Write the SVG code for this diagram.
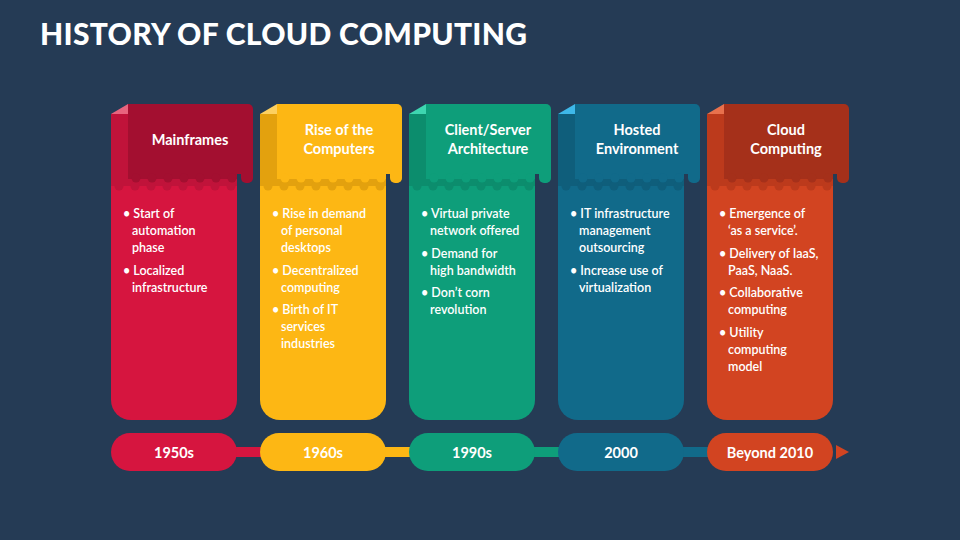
<svg xmlns="http://www.w3.org/2000/svg" width="960" height="540" viewBox="0 0 960 540">
<defs>
<style>
.t{font-family:Lato,"Open Sans","Liberation Sans",sans-serif;fill:#fff}
.h{font-size:14.5px;font-weight:700;text-anchor:middle}
.b{font-size:12.5px;font-weight:600}
.y{font-size:14.5px;font-weight:700;text-anchor:middle}
</style>
<g id="wave">
<circle cx="0" cy="0" r="4.5"/><circle cx="16" cy="0" r="4.5"/><circle cx="32" cy="0" r="4.5"/><circle cx="48" cy="0" r="4.5"/><circle cx="64" cy="0" r="4.5"/><circle cx="80" cy="0" r="4.5"/><circle cx="96" cy="0" r="4.5"/><circle cx="112" cy="0" r="4.5"/>
</g>
</defs>
<rect width="960" height="540" fill="#253B55"/>
<text x="40" y="45" font-family="Lato,'Open Sans','Liberation Sans',sans-serif" font-size="30" font-weight="900" fill="#fff" textLength="487">HISTORY OF CLOUD COMPUTING</text>

<g id="connectors">
<rect x="230" y="447" width="40" height="10" fill="#D6153F"/>
<rect x="380" y="447" width="40" height="10" fill="#FDB714"/>
<rect x="529" y="447" width="40" height="10" fill="#0E9E7A"/>
<rect x="678" y="447" width="40" height="10" fill="#116A8A"/>
<polygon points="836,445 849,452 836,459" fill="#D24421"/>
</g>

<g id="col1">
<path d="M111 176 H237 V400 a20 20 0 0 1 -20 20 H131 a20 20 0 0 1 -20 -20 Z" fill="#D6153F"/>
<rect x="111" y="174" width="126" height="12" fill="#C0133A"/>
<use href="#wave" x="119" y="186" fill="#C0133A"/>
<rect x="111" y="114" width="17" height="72" fill="#C0133A"/>
<polygon points="111,114 128,104 128,114" fill="#E8647E"/>
<rect x="128" y="104" width="109" height="75" fill="#A30F30"/>
<use href="#wave" x="136" y="178" fill="#A30F30"/>
<rect x="241" y="104" width="12" height="79" rx="5" fill="#A30F30"/>
<rect x="237" y="104" width="10" height="70" fill="#A30F30"/>
<text class="t h" x="190" y="145">Mainframes</text>
<text class="t b"><tspan x="123" y="218">• Start of</tspan><tspan x="132" y="235">automation</tspan><tspan x="132" y="252">phase</tspan><tspan x="123" y="275">• Localized</tspan><tspan x="132" y="292">infrastructure</tspan></text>
<rect x="111" y="433" width="126" height="38" rx="19" fill="#D6153F"/>
<text class="t y" x="174" y="458">1950s</text>
</g>

<g id="col2">
<path d="M260 176 H386 V400 a20 20 0 0 1 -20 20 H280 a20 20 0 0 1 -20 -20 Z" fill="#FDB714"/>
<rect x="260" y="174" width="126" height="12" fill="#E3A10E"/>
<use href="#wave" x="268" y="186" fill="#E3A10E"/>
<rect x="260" y="114" width="17" height="72" fill="#E3A10E"/>
<polygon points="260,114 277,104 277,114" fill="#FDD060"/>
<rect x="277" y="104" width="109" height="75" fill="#FDB714"/>
<use href="#wave" x="285" y="178" fill="#FDB714"/>
<rect x="390" y="104" width="12" height="79" rx="5" fill="#FDB714"/>
<rect x="386" y="104" width="10" height="70" fill="#FDB714"/>
<text class="t h"><tspan x="339" y="135">Rise of the</tspan><tspan x="339" y="154">Computers</tspan></text>
<text class="t b"><tspan x="272" y="218">• Rise in demand</tspan><tspan x="281" y="235">of personal</tspan><tspan x="281" y="252">desktops</tspan><tspan x="272" y="275">• Decentralized</tspan><tspan x="281" y="292">computing</tspan><tspan x="272" y="314">• Birth of IT</tspan><tspan x="281" y="331">services</tspan><tspan x="281" y="348">industries</tspan></text>
<rect x="260" y="433" width="126" height="38" rx="19" fill="#FDB714"/>
<text class="t y" x="323" y="458">1960s</text>
</g>

<g id="col3">
<path d="M409 176 H535 V400 a20 20 0 0 1 -20 20 H429 a20 20 0 0 1 -20 -20 Z" fill="#0E9E7A"/>
<rect x="409" y="174" width="126" height="12" fill="#0C8D6D"/>
<use href="#wave" x="417" y="186" fill="#0C8D6D"/>
<rect x="409" y="114" width="17" height="72" fill="#0C8D6D"/>
<polygon points="409,114 426,104 426,114" fill="#3ED6B0"/>
<rect x="426" y="104" width="109" height="75" fill="#0E9E7A"/>
<use href="#wave" x="434" y="178" fill="#0E9E7A"/>
<rect x="539" y="104" width="12" height="79" rx="5" fill="#0E9E7A"/>
<rect x="535" y="104" width="10" height="70" fill="#0E9E7A"/>
<text class="t h"><tspan x="488" y="135">Client/Server</tspan><tspan x="488" y="154">Architecture</tspan></text>
<text class="t b"><tspan x="421" y="218">• Virtual private</tspan><tspan x="430" y="235">network offered</tspan><tspan x="421" y="258">• Demand for</tspan><tspan x="430" y="275">high bandwidth</tspan><tspan x="421" y="297">• Don’t corn</tspan><tspan x="430" y="314">revolution</tspan></text>
<rect x="409" y="433" width="126" height="38" rx="19" fill="#0E9E7A"/>
<text class="t y" x="472" y="458">1990s</text>
</g>

<g id="col4">
<path d="M558 176 H684 V400 a20 20 0 0 1 -20 20 H578 a20 20 0 0 1 -20 -20 Z" fill="#116A8A"/>
<rect x="558" y="174" width="126" height="12" fill="#0F5E7B"/>
<use href="#wave" x="566" y="186" fill="#0F5E7B"/>
<rect x="558" y="114" width="17" height="72" fill="#0F5E7B"/>
<polygon points="558,114 575,104 575,114" fill="#3EB8E8"/>
<rect x="575" y="104" width="109" height="75" fill="#116A8A"/>
<use href="#wave" x="583" y="178" fill="#116A8A"/>
<rect x="688" y="104" width="12" height="79" rx="5" fill="#116A8A"/>
<rect x="684" y="104" width="10" height="70" fill="#116A8A"/>
<text class="t h"><tspan x="637" y="135">Hosted</tspan><tspan x="637" y="154">Environment</tspan></text>
<text class="t b"><tspan x="570" y="218">• IT infrastructure</tspan><tspan x="579" y="235">management</tspan><tspan x="579" y="252">outsourcing</tspan><tspan x="570" y="275">• Increase use of</tspan><tspan x="579" y="292">virtualization</tspan></text>
<rect x="558" y="433" width="126" height="38" rx="19" fill="#116A8A"/>
<text class="t y" x="621" y="458">2000</text>
</g>

<g id="col5">
<path d="M707 176 H833 V400 a20 20 0 0 1 -20 20 H727 a20 20 0 0 1 -20 -20 Z" fill="#D24421"/>
<rect x="707" y="174" width="126" height="12" fill="#BC3A1C"/>
<use href="#wave" x="715" y="186" fill="#BC3A1C"/>
<rect x="707" y="114" width="17" height="72" fill="#BC3A1C"/>
<polygon points="707,114 724,104 724,114" fill="#E8714D"/>
<rect x="724" y="104" width="109" height="75" fill="#A5301A"/>
<use href="#wave" x="732" y="178" fill="#A5301A"/>
<rect x="837" y="104" width="12" height="79" rx="5" fill="#A5301A"/>
<rect x="833" y="104" width="10" height="70" fill="#A5301A"/>
<text class="t h"><tspan x="786" y="135">Cloud</tspan><tspan x="786" y="154">Computing</tspan></text>
<text class="t b"><tspan x="719" y="218">• Emergence of</tspan><tspan x="728" y="235">‘as a service’.</tspan><tspan x="719" y="258">• Delivery of IaaS,</tspan><tspan x="728" y="275">PaaS, NaaS.</tspan><tspan x="719" y="297">• Collaborative</tspan><tspan x="728" y="314">computing</tspan><tspan x="719" y="337">• Utility</tspan><tspan x="728" y="354">computing</tspan><tspan x="728" y="371">model</tspan></text>
<rect x="707" y="433" width="126" height="38" rx="19" fill="#D24421"/>
<text class="t y" x="770" y="458">Beyond 2010</text>
</g>
</svg>
